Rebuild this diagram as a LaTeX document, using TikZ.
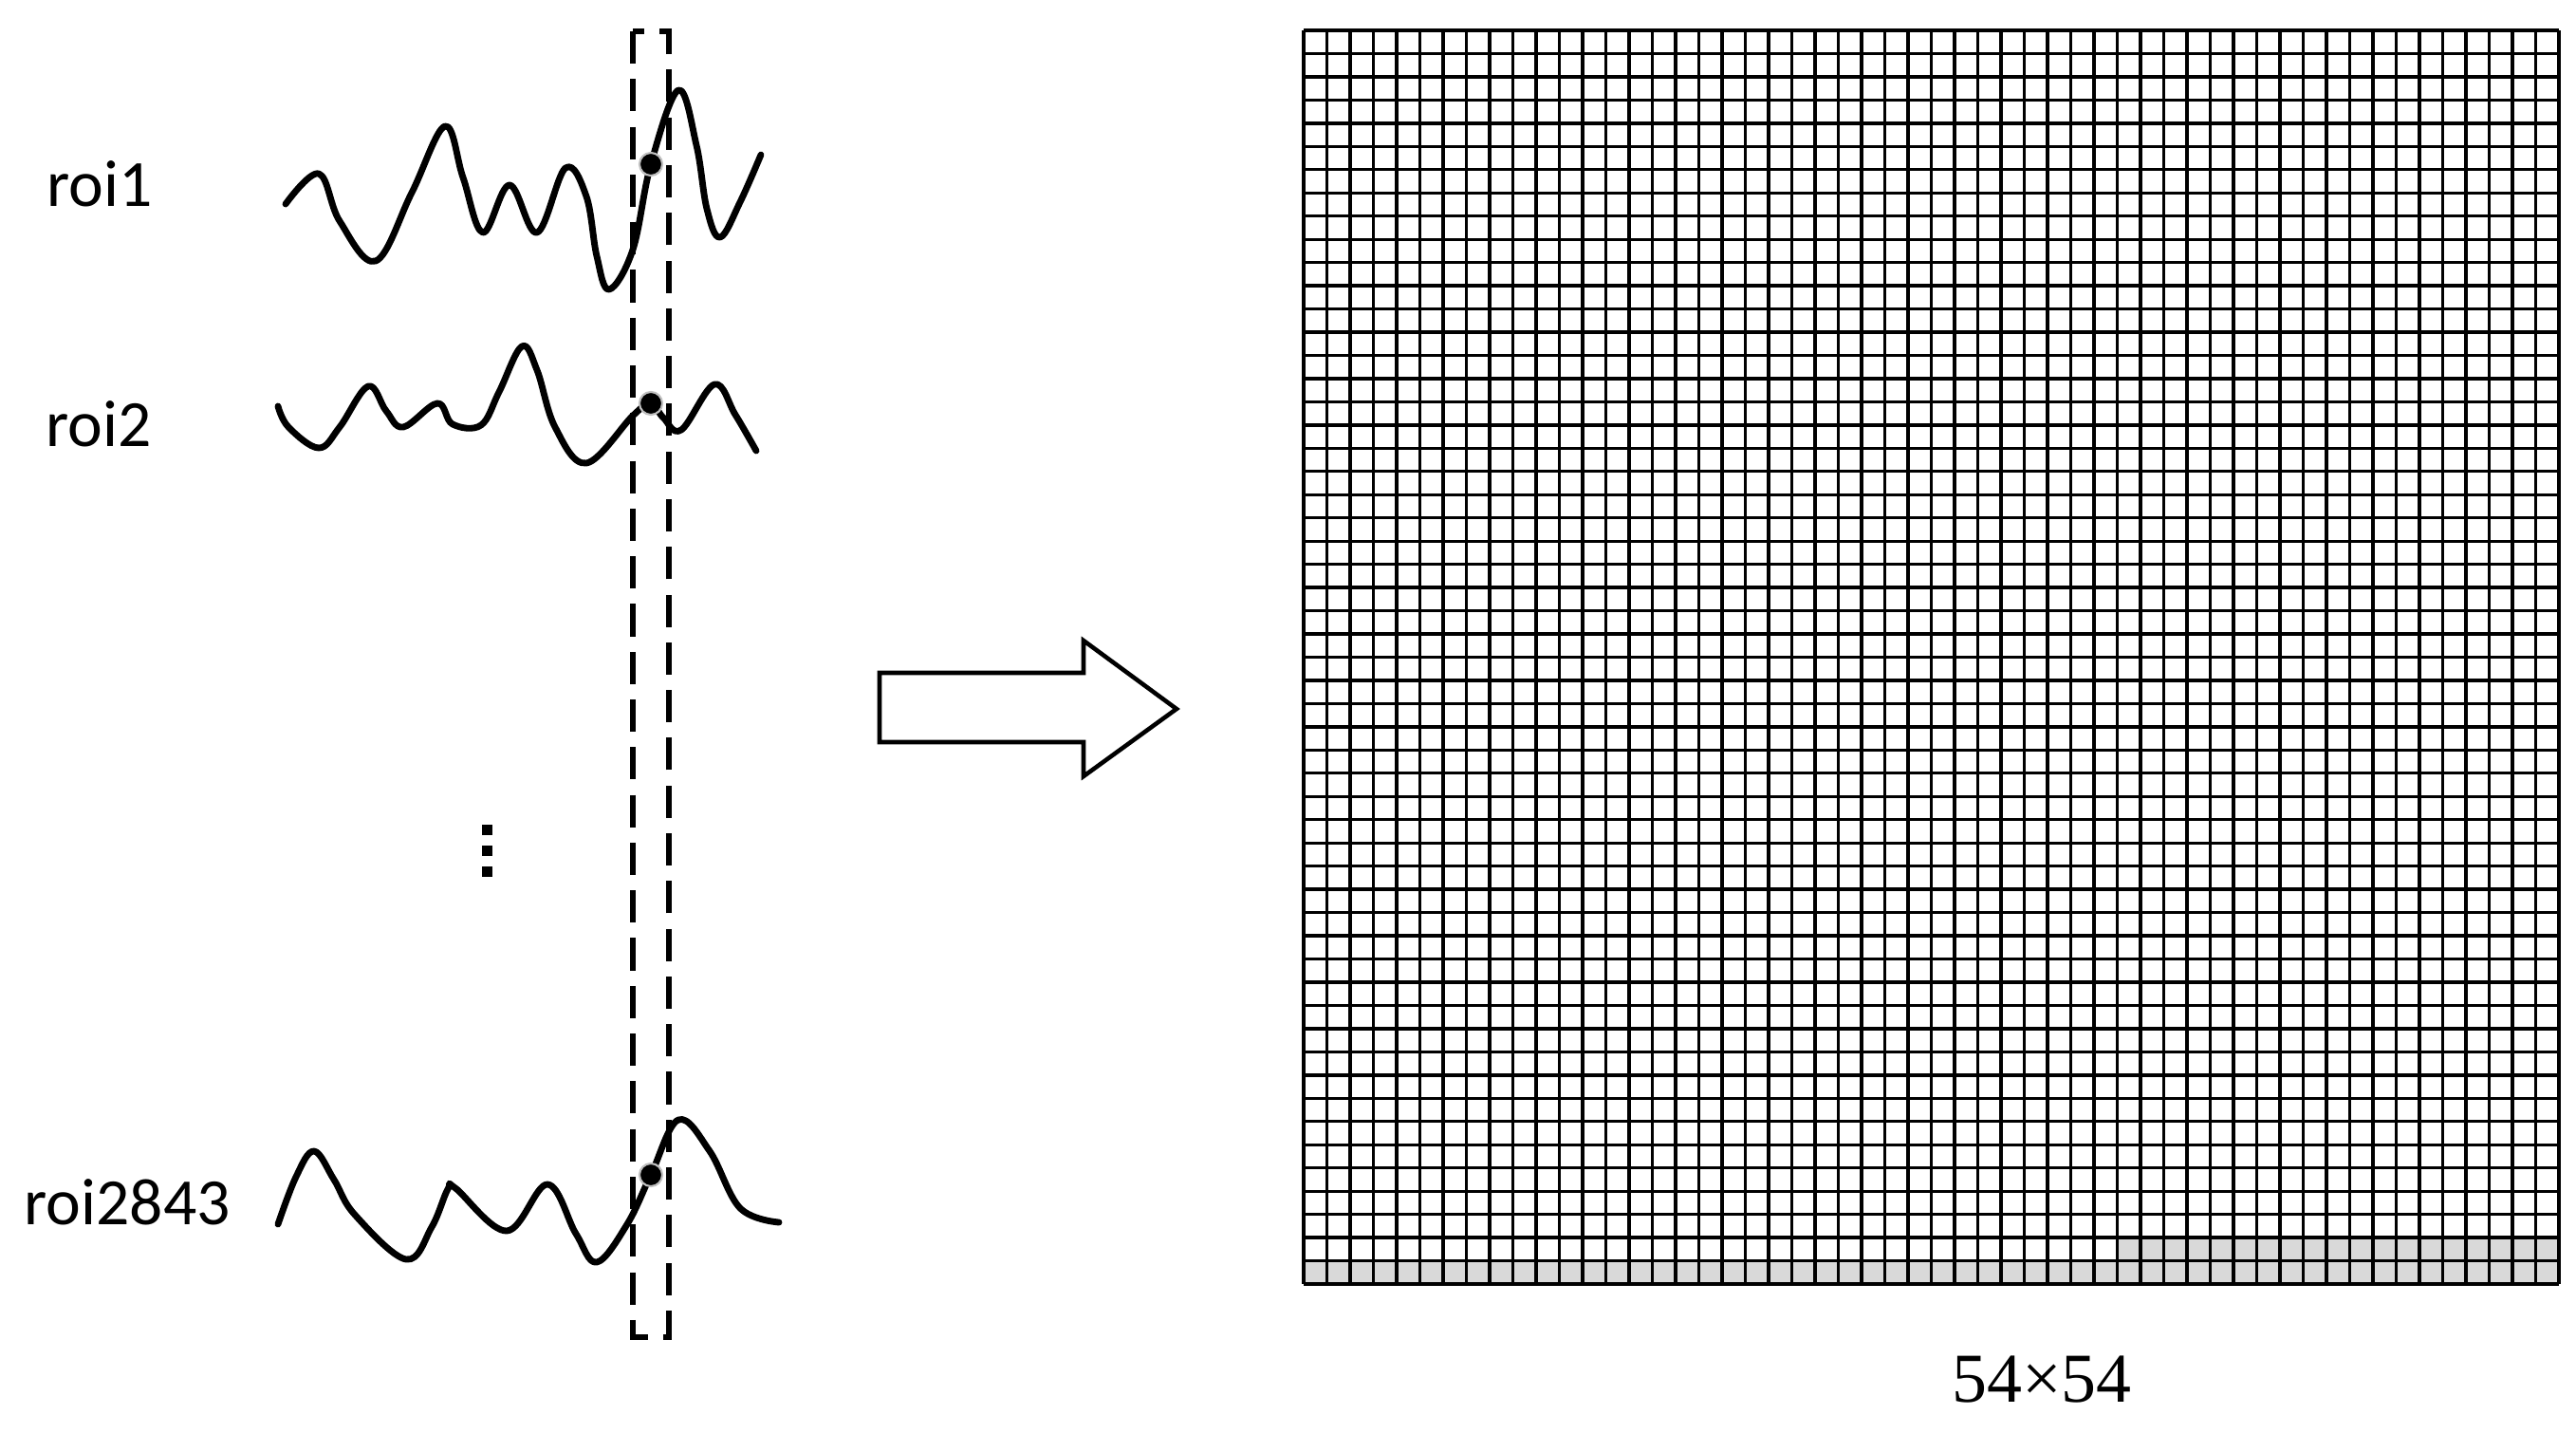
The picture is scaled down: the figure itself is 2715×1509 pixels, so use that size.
\documentclass[tikz,border=0pt]{standalone}
\usepackage{fontspec}
\setmainfont{Liberation Serif}
\newfontfamily\roifont{Carlito}
\usepackage{tikz}

\tikzset{
  wave/.style = {line width=1.95pt, line join=round, line cap=round},
  samplept/.style = {circle, fill=black, draw=black!25, line width=0.6pt,
                     minimum size=0.24cm, inner sep=0pt},
  roilabel/.style = {anchor=base west, inner sep=0pt,
                     font=\roifont\fontsize{19.8}{24}\selectfont},
  windowbox/.style = {line width=1.55pt, dash pattern=on 9.7pt off 4.6pt},
  cellline/.style = {line width=0.94pt},
  blockarrow/.style = {line width=1.3pt, line join=miter},
}

\begin{document}
\begin{tikzpicture}[x=0.01cm, y=-0.01cm]
  \useasboundingbox (0,0) rectangle (2715,1509);

  \node[roilabel] (l1) at (49,217) {roi1};
  \node[roilabel] (l2) at (48,470) {roi2};
  \node[roilabel] (l3) at (25,1290) {roi2843};

  \draw[wave] plot[smooth, tension=0.62] coordinates {(301,215) (336,183) (358,233) (396,275) (434,203) (469,133)
    (488,187) (509,245) (537,195) (566,245) (596,177) (618,207) (629,270) (642,305) (667,263) (686,173)
    (715,95) (734,153) (745,220) (759,250) (780,213) (802,163)};
  \draw[wave] plot[smooth, tension=0.62] coordinates {(293,428) (304,450) (336,472) (358,450) (388,407) (407,433)
    (425,450) (461,425) (477,447) (507,448) (526,413) (550,365) (566,390) (585,450) (618,488) (667,438)
    (686,425) (699,440) (718,453) (753,405) (775,437) (797,475)};
  \draw[wave] plot[smooth, tension=0.62] coordinates {(293,1290) (312,1240) (331,1213) (352,1243) (374,1280)
    (428,1327) (455,1293) (472,1253) (480,1252) (534,1297) (577,1248) (607,1300) (629,1330) (661,1290)
    (686,1238) (715,1180) (748,1213) (780,1273) (821,1288)};

  \node[samplept] (s1) at (686,173) {};
  \node[samplept] (s2) at (686,425) {};
  \node[samplept] (s3) at (686,1238) {};

  \draw[windowbox] (667,33) rectangle (705,1409);

  \foreach \y in {874,896,918}
    \fill (507.5,\y-5.5) rectangle +(11,11);

  \draw[blockarrow] (927,709) -- (1142,709) -- (1142,675) -- (1240,747)
    -- (1142,818) -- (1142,782) -- (927,782) -- cycle;

  % 54 x 54 image, filled row by row
  \fill[black!15] (1374,1328.54) rectangle (2697,1353);
  \fill[black!15] (2231.5,1304.08) rectangle (2697,1328.54);
  \foreach \i in {0,...,54} {
    \draw[cellline] ({1374+24.5*\i},32) -- ({1374+24.5*\i},1353);
    \draw[cellline] (1374,{32+24.463*\i}) -- (2697,{32+24.463*\i});
  }

  \node[font=\fontsize{21}{25}\selectfont, anchor=base, inner sep=0pt] (size) at (2152,1477) {54×54};
\end{tikzpicture}
\end{document}
